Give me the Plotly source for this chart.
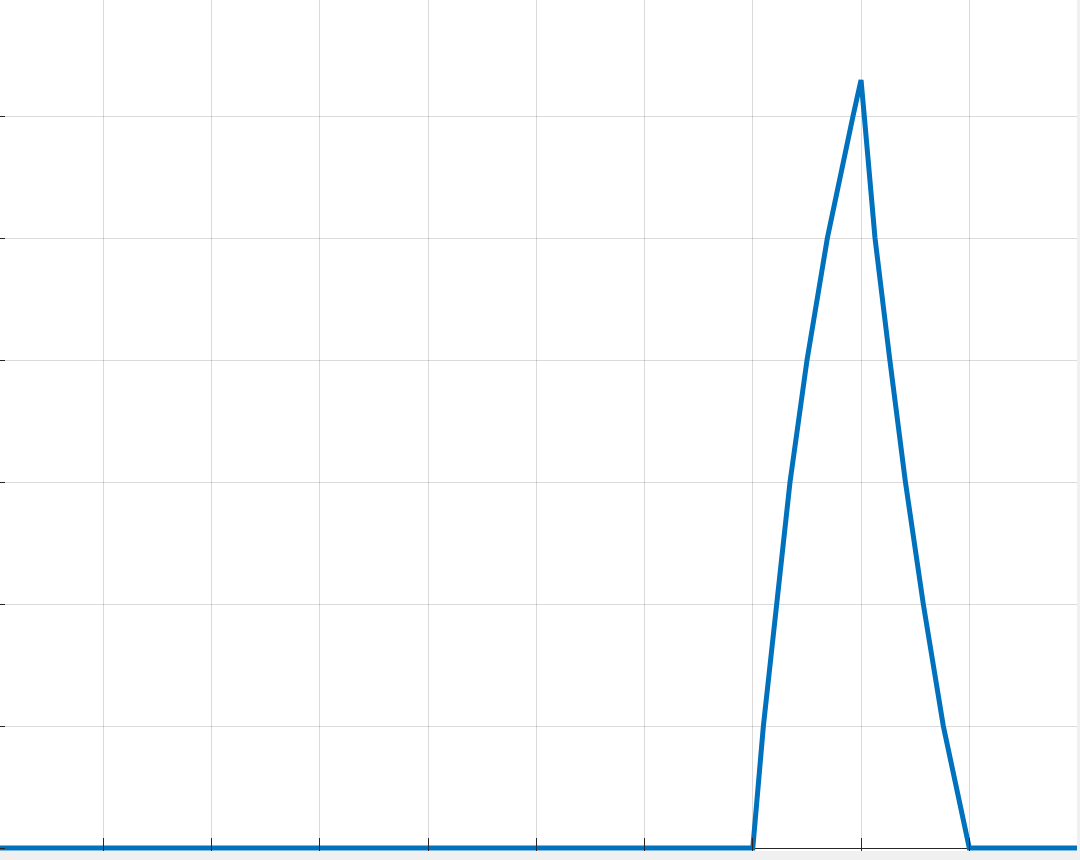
import plotly.graph_objects as go

# curve (x and y in grid units)
x_vals = [0, 7.0, 7.098, 7.224, 7.344, 7.501, 7.689, 7.926, 8.0,
          8.030, 8.129, 8.266, 8.410, 8.575, 8.760, 9.0, 10]
y_vals = [0, 0, 1, 2, 3, 4, 5, 6, 6.295,
          6, 5, 4, 3, 2, 1, 0, 0]

axis_col = "#262626"
grid_col = "rgba(38,38,38,0.17)"

fig = go.Figure()
fig.add_trace(go.Scatter(x=x_vals, y=y_vals, mode="lines",
                         line=dict(color="#0072BD", width=5), showlegend=False))

# main axes (bottom / left), grid lines only, no edge lines
fig.update_layout(
    width=1080, height=860,
    margin=dict(l=0, r=3, t=0, b=9),
    paper_bgcolor="#f0f0f0",
    plot_bgcolor="white",
    xaxis=dict(range=[0.046, 9.995], tick0=0, dtick=1, showticklabels=False,
               ticks="inside", ticklen=13, tickcolor=axis_col,
               showgrid=True, gridcolor=grid_col, gridwidth=1,
               showline=False, zeroline=False),
    yaxis=dict(range=[-0.0246, 6.951], tick0=0, dtick=1, showticklabels=False,
               ticks="inside", ticklen=5, tickcolor=axis_col,
               showgrid=True, gridcolor=grid_col, gridwidth=1,
               showline=False, zeroline=True, zerolinecolor=axis_col, zerolinewidth=1),
    xaxis2=dict(overlaying="x", side="top", matches="x", anchor="y",
                tick0=0, dtick=1, showticklabels=False,
                ticks="inside", ticklen=5, tickcolor=axis_col,
                showgrid=False, showline=False, zeroline=False),
    yaxis2=dict(overlaying="y", side="right", matches="y", anchor="x",
                tick0=0, dtick=1, showticklabels=False,
                ticks="inside", ticklen=10, tickcolor=axis_col,
                showgrid=False, showline=True, linecolor=axis_col, linewidth=1,
                zeroline=False),
)

fig.write_html("out.html", config={"displayModeBar": False},
               post_script="document.body.style.margin='0';document.body.style.overflow='hidden';")
